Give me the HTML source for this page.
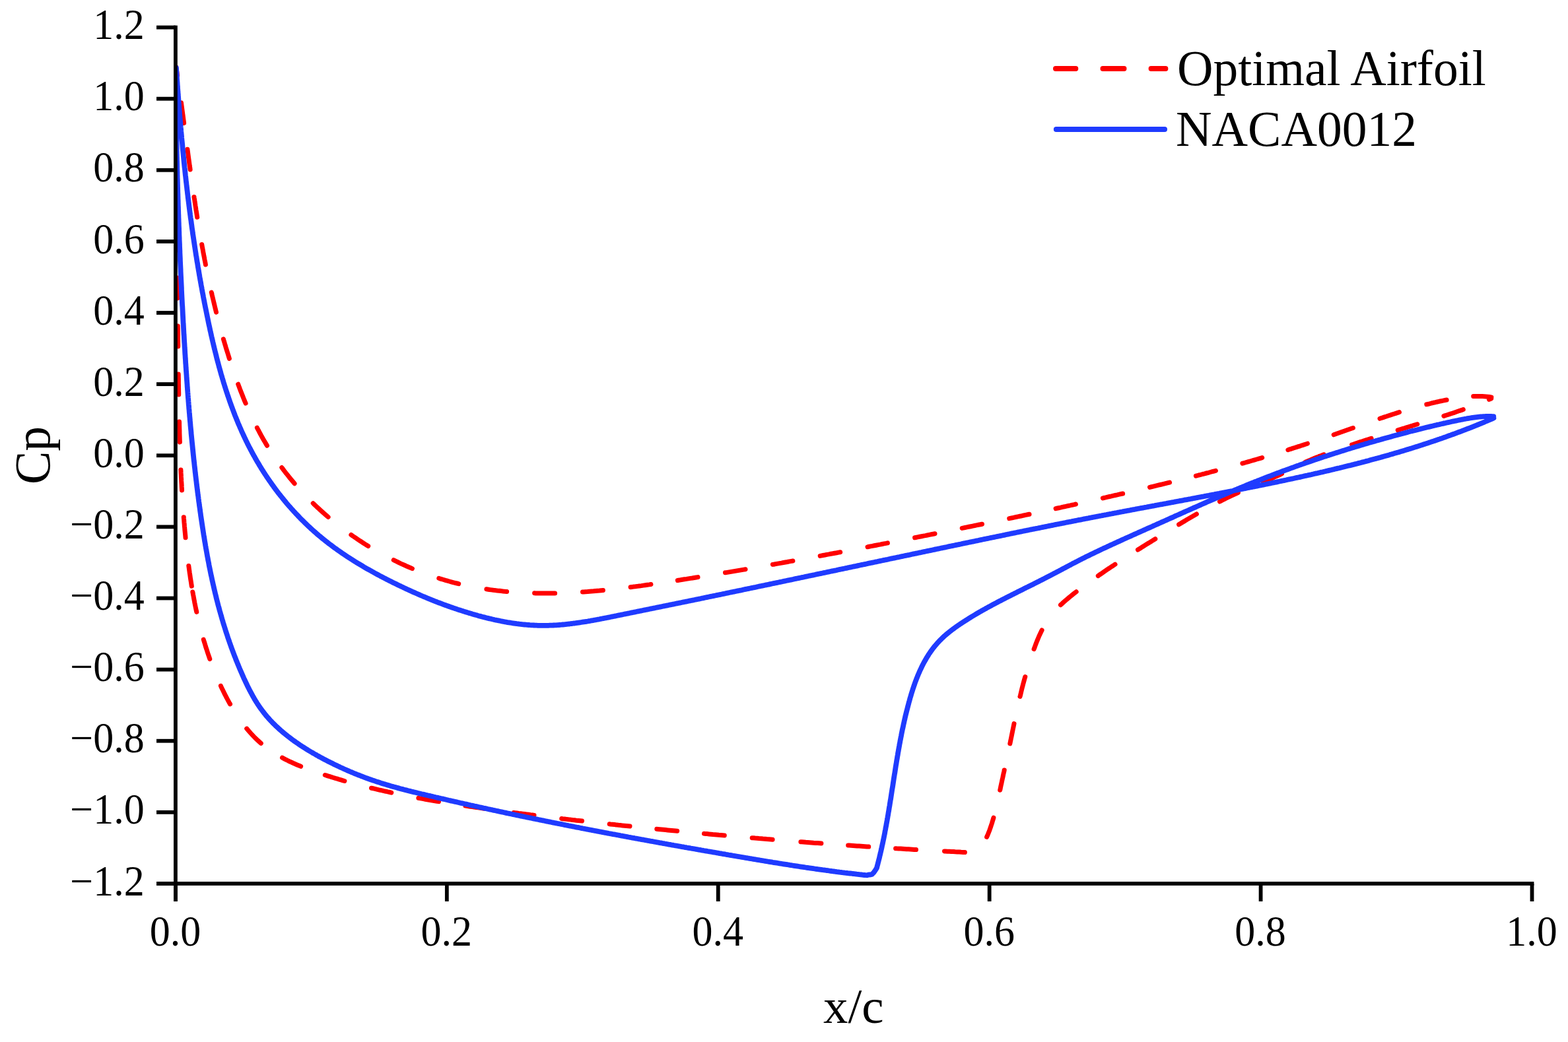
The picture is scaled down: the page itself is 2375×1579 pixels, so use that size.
<!DOCTYPE html>
<html><head><meta charset="utf-8"><title>Cp distribution</title><style>html,body{margin:0;padding:0;background:#fff;overflow:hidden}svg{display:block}</style></head><body>
<svg width="2375" height="1579" viewBox="0 0 2375 1579">
<rect width="2375" height="1579" fill="#fff"/>
<defs><clipPath id="pa"><rect x="265.5" y="0" width="2110" height="1579"/></clipPath></defs>
<g clip-path="url(#pa)">
<path d="M266.8 101.9L267.1 103.8L267.5 106.8L268.0 109.8L268.4 112.7L268.6 114.2M274.5 155.8L274.7 157.3L275.1 160.3L275.5 163.2L275.9 166.2L276.3 169.2L276.7 172.2L277.1 175.1L277.5 178.1L277.9 181.1L278.3 184.1L278.6 186.5M283.9 226.2L284.1 227.7L284.5 230.6L284.9 233.6L285.3 236.6L285.7 239.6L286.1 242.5L286.5 245.5L286.9 248.5L287.3 251.4L287.8 254.4L288.1 256.9M294.0 298.5L294.2 300.0L294.7 302.9L295.1 305.9L295.6 308.9L296.0 311.8L296.5 314.8L296.9 317.8L297.4 320.7L297.9 323.7L298.3 326.6L298.7 329.1M305.7 370.5L306.0 372.0L306.5 375.0L307.1 377.9L307.6 380.9L308.1 383.8L308.7 386.8L309.3 389.7L309.8 392.7L310.4 395.6L311.0 398.5L311.4 401.0M320.3 443.1L320.7 444.5L321.3 447.5L322.0 450.4L322.7 453.3L323.4 456.2L324.1 459.1L324.8 462.1L325.5 465.0L326.2 467.9L326.9 470.8L327.5 473.2M338.4 513.8L338.8 515.2L339.7 518.1L340.5 521.0L341.4 523.9L342.2 526.7L343.1 529.6L344.0 532.5L344.9 535.3L345.8 538.2L346.7 541.1L347.4 543.4M360.7 582.2L361.2 583.6L362.3 586.5L363.3 589.3L364.4 592.1L365.5 594.9L366.6 597.6L367.7 600.4L368.8 603.2L369.9 606.0L371.1 608.8L372.1 611.1M389.4 648.2L390.1 649.6L391.5 652.2L392.9 654.9L394.3 657.5L395.7 660.1L397.2 662.8L398.7 665.4L400.2 668.0L401.7 670.6L403.2 673.1L404.5 675.3M426.8 708.5L427.7 709.7L429.5 712.1L431.3 714.5L433.1 716.8L435.0 719.2L436.9 721.5L438.7 723.9L440.7 726.2L442.6 728.5L444.5 730.8L446.1 732.7M474.2 762.6L475.2 763.6L477.4 765.7L479.6 767.8L481.8 769.8L484.0 771.9L486.2 773.9L488.4 775.9L490.7 777.9L492.9 779.9L495.2 781.8L497.1 783.5M531.8 810.4L533.1 811.3L535.5 813.0L538.0 814.7L540.5 816.4L543.0 818.1L545.5 819.7L548.0 821.3L550.5 823.0L553.0 824.6L555.6 826.2L557.7 827.5M596.2 848.7L597.6 849.4L600.3 850.7L603.0 852.0L605.7 853.3L608.4 854.6L611.1 855.8L613.9 857.0L616.6 858.3L619.4 859.5L622.1 860.6L624.4 861.6M664.8 876.3L666.2 876.8L669.1 877.7L672.0 878.5L674.8 879.4L677.7 880.2L680.6 881.0L683.5 881.8L686.4 882.6L689.3 883.3L692.2 884.0L694.7 884.6M736.9 892.8L738.3 893.0L741.3 893.5L744.3 893.9L747.3 894.3L750.2 894.6L753.2 895.0L756.2 895.3L759.2 895.6L762.2 896.0L765.1 896.3L767.6 896.5M809.6 898.8L811.1 898.9L814.1 898.9L817.1 899.0L820.1 899.0L823.1 899.0L826.1 899.0L829.1 899.0L832.1 899.0L835.1 899.0L838.1 898.9L840.6 898.9M882.5 897.0L884.0 896.9L887.0 896.7L890.0 896.5L893.0 896.2L896.0 896.0L899.0 895.8L902.0 895.5L904.9 895.2L907.9 895.0L910.9 894.7L913.4 894.5M955.1 889.7L956.6 889.5L959.6 889.1L962.6 888.8L965.6 888.4L968.5 888.0L971.5 887.6L974.5 887.1L977.4 886.7L980.4 886.3L983.4 885.9L985.9 885.5M1026.4 879.5L1027.9 879.2L1030.8 878.8L1033.8 878.3L1036.8 877.8L1039.7 877.4L1042.7 876.9L1045.7 876.4L1048.6 876.0L1051.6 875.5L1054.6 875.0L1057.0 874.6M1098.5 867.8L1099.9 867.6L1102.9 867.1L1105.9 866.6L1108.8 866.1L1111.8 865.6L1114.7 865.1L1117.7 864.6L1120.7 864.1L1123.6 863.6L1126.6 863.1L1129.0 862.7M1170.4 855.4L1171.9 855.2L1174.8 854.6L1177.8 854.1L1180.7 853.6L1183.7 853.1L1186.7 852.5L1189.6 852.0L1192.6 851.5L1195.5 850.9L1198.5 850.4L1200.9 850.0M1242.2 842.4L1243.7 842.1L1246.7 841.5L1249.6 841.0L1252.6 840.4L1255.5 839.9L1258.5 839.3L1261.4 838.8L1264.3 838.2L1267.3 837.7L1270.2 837.1L1272.7 836.7M1314.0 828.8L1315.4 828.5L1318.4 827.9L1321.3 827.4L1324.3 826.8L1327.2 826.2L1330.2 825.6L1333.1 825.1L1336.0 824.5L1339.0 823.9L1341.9 823.4L1344.4 822.9M1385.6 814.8L1387.1 814.5L1390.0 813.9L1393.0 813.3L1395.9 812.7L1398.8 812.1L1401.8 811.6L1404.7 811.0L1407.7 810.4L1410.6 809.8L1413.5 809.2L1416.0 808.7M1457.2 800.4L1458.6 800.1L1461.6 799.5L1464.5 798.9L1467.5 798.3L1470.4 797.7L1473.3 797.1L1476.3 796.5L1479.2 795.9L1482.2 795.3L1485.1 794.7L1487.5 794.2M1528.7 785.7L1530.1 785.4L1533.1 784.8L1536.0 784.1L1538.9 783.5L1541.9 782.9L1544.8 782.3L1547.8 781.7L1550.7 781.0L1553.6 780.4L1556.6 779.8L1559.0 779.3M1599.1 770.7L1600.6 770.3L1603.5 769.7L1606.4 769.1L1609.3 768.4L1612.3 767.8L1615.2 767.1L1618.1 766.5L1621.1 765.9L1624.0 765.2L1626.9 764.6L1629.4 764.0M1670.4 754.9L1671.8 754.5L1674.7 753.9L1677.7 753.2L1680.6 752.5L1683.5 751.9L1686.4 751.2L1689.4 750.5L1692.3 749.9L1695.2 749.2L1698.1 748.5L1700.6 748.0M1741.5 738.4L1742.9 738.0L1745.8 737.3L1748.8 736.6L1751.7 735.9L1754.6 735.2L1757.5 734.5L1760.4 733.8L1763.3 733.1L1766.3 732.4L1769.2 731.7L1771.6 731.1M1811.4 721.2L1812.8 720.8L1815.7 720.0L1818.6 719.3L1821.5 718.5L1824.4 717.8L1827.4 717.0L1830.3 716.3L1833.2 715.5L1836.1 714.7L1839.0 714.0L1841.4 713.3M1881.9 702.2L1883.3 701.8L1886.2 701.0L1889.1 700.2L1892.0 699.3L1894.9 698.5L1897.7 697.7L1900.6 696.8L1903.5 696.0L1906.4 695.2L1909.3 694.3L1911.7 693.6M1950.9 681.7L1952.3 681.2L1955.2 680.3L1958.0 679.4L1960.9 678.5L1963.7 677.6L1966.6 676.7L1969.5 675.8L1972.3 674.8L1975.2 673.9L1978.0 673.0L1980.4 672.2M2020.2 658.8L2021.6 658.3L2024.4 657.3L2027.3 656.3L2030.1 655.3L2032.9 654.3L2035.8 653.3L2038.6 652.3L2041.4 651.3L2044.3 650.3L2047.1 649.3L2049.4 648.5M2090.0 634.3L2091.5 633.8L2094.3 632.9L2097.1 631.9L2100.0 631.0L2102.8 630.0L2105.7 629.1L2108.5 628.2L2111.4 627.2L2114.2 626.3L2117.1 625.4L2119.5 624.7M2160.8 612.8L2162.3 612.5L2165.2 611.8L2168.1 611.0L2171.0 610.3L2173.9 609.7L2176.9 609.0L2179.8 608.3L2182.7 607.7L2185.7 607.1L2188.6 606.5L2191.1 606.0M2231.7 600.6L2233.2 600.5L2236.2 600.5L2239.2 600.4L2242.2 600.5L2245.2 600.6L2248.2 600.7L2251.1 601.0L2254.1 601.3L2257.1 601.6L2258.9 601.9M266.4 129.0L266.4 130.5L266.4 133.5L266.4 136.5L266.4 139.5L266.5 142.5L266.5 145.5L266.5 148.5L266.5 151.5L266.5 154.5L266.6 157.5L266.6 160.0M266.9 202.0L266.9 203.5L266.9 206.5L266.9 209.5L266.9 212.5L267.0 215.5L267.0 218.5L267.0 221.5L267.0 224.5L267.1 227.5L267.1 230.5L267.1 233.0M267.4 275.0L267.4 276.5L267.4 279.5L267.4 282.5L267.5 285.5L267.5 288.5L267.5 291.5L267.5 294.5L267.5 297.5L267.6 300.5L267.6 303.5L267.6 306.0M267.9 348.0L267.9 349.5L268.0 352.5L268.0 355.5L268.0 358.5L268.0 361.5L268.1 364.5L268.1 367.5L268.1 370.5L268.1 373.5L268.2 376.5L268.2 379.0M268.6 421.0L268.6 422.5L268.6 425.5L268.6 428.5L268.7 431.5L268.7 434.5L268.7 437.5L268.8 440.5L268.8 443.5L268.8 446.5L268.8 449.5L268.9 452.0M269.3 494.0L269.3 495.5L269.4 498.5L269.4 501.5L269.4 504.5L269.5 507.5L269.5 510.5L269.5 513.5L269.6 516.5L269.6 519.5L269.7 522.5L269.7 525.0M270.2 567.0L270.3 568.5L270.3 571.5L270.4 574.5L270.4 577.5L270.4 580.5L270.5 583.5L270.5 586.5L270.6 589.5L270.6 592.5L270.7 595.5L270.7 598.0M271.5 639.0L271.6 640.5L271.6 643.5L271.7 646.5L271.8 649.5L271.9 652.5L271.9 655.5L272.0 658.5L272.1 661.5L272.2 664.5L272.3 667.5L272.4 670.0M273.9 711.9L274.0 713.4L274.1 716.4L274.3 719.4L274.4 722.4L274.6 725.4L274.7 728.4L274.9 731.4L275.1 734.4L275.2 737.4L275.4 740.4L275.5 742.9M278.3 783.8L278.4 785.3L278.7 788.3L278.9 791.3L279.2 794.3L279.4 797.3L279.7 800.2L279.9 803.2L280.2 806.2L280.5 809.2L280.8 812.2L281.0 814.7M285.8 857.4L286.0 858.9L286.4 861.9L286.8 864.8L287.2 867.8L287.7 870.8L288.1 873.8L288.5 876.7L289.0 879.7L289.5 882.6L289.9 885.6L290.3 888.1M291.8 897.0L292.1 898.4L292.6 901.4L293.2 904.3L293.7 907.3L294.3 910.2L294.8 913.2L295.4 916.1L296.0 919.1L296.6 922.0L297.2 924.9L297.8 927.4M308.3 969.1L308.7 970.5L309.6 973.4L310.5 976.2L311.3 979.1L312.2 982.0L313.2 984.8L314.1 987.7L315.0 990.5L316.0 993.4L317.0 996.2L317.8 998.6M334.4 1039.3L335.0 1040.7L336.3 1043.4L337.6 1046.1L338.9 1048.8L340.2 1051.5L341.6 1054.1L343.0 1056.8L344.4 1059.5L345.8 1062.1L347.2 1064.7L348.5 1066.9M373.7 1104.1L374.7 1105.3L376.6 1107.5L378.6 1109.8L380.6 1112.0L382.6 1114.2L384.7 1116.4L386.8 1118.5L389.0 1120.6L391.2 1122.6L393.4 1124.6L395.3 1126.3M427.5 1148.2L428.8 1148.9L431.5 1150.3L434.1 1151.6L436.8 1153.0L439.5 1154.3L442.3 1155.5L445.0 1156.8L447.7 1158.0L450.5 1159.2L453.2 1160.3L455.6 1161.3M492.3 1174.5L493.7 1174.9L496.5 1175.8L499.4 1176.7L502.3 1177.6L505.1 1178.5L508.0 1179.4L510.9 1180.2L513.8 1181.1L516.6 1181.9L519.5 1182.8L521.9 1183.5M562.5 1194.2L564.0 1194.5L566.9 1195.2L569.8 1195.9L572.7 1196.6L575.7 1197.3L578.6 1197.9L581.5 1198.6L584.4 1199.2L587.4 1199.9L590.3 1200.5L592.8 1201.1M633.9 1209.3L635.4 1209.6L638.4 1210.1L641.3 1210.6L644.3 1211.2L647.2 1211.7L650.2 1212.2L653.1 1212.7L656.1 1213.2L659.0 1213.7L662.0 1214.2L664.5 1214.6M705.0 1221.1L706.4 1221.3L709.4 1221.7L712.4 1222.2L715.4 1222.6L718.3 1223.0L721.3 1223.5L724.3 1223.9L727.2 1224.3L730.2 1224.7L733.2 1225.2L735.6 1225.5M778.2 1231.4L779.7 1231.6L782.7 1232.0L785.7 1232.4L788.7 1232.7L791.6 1233.1L794.6 1233.5L797.6 1233.9L800.6 1234.3L803.5 1234.7L806.5 1235.0L809.0 1235.4M850.7 1240.5L852.2 1240.7L855.1 1241.0L858.1 1241.4L861.1 1241.8L864.1 1242.1L867.1 1242.5L870.0 1242.8L873.0 1243.2L876.0 1243.5L879.0 1243.8L881.5 1244.1M923.2 1248.8L924.7 1249.0L927.7 1249.3L930.7 1249.6L933.6 1249.9L936.6 1250.3L939.6 1250.6L942.6 1250.9L945.6 1251.2L948.5 1251.5L951.5 1251.8L954.0 1252.1M994.8 1256.3L996.3 1256.4L999.3 1256.7L1002.3 1257.0L1005.3 1257.3L1008.2 1257.6L1011.2 1257.9L1014.2 1258.2L1017.2 1258.5L1020.2 1258.8L1023.2 1259.1L1025.7 1259.3M1066.5 1263.2L1068.0 1263.4L1071.0 1263.6L1073.9 1263.9L1076.9 1264.2L1079.9 1264.5L1082.9 1264.7L1085.9 1265.0L1088.9 1265.3L1091.9 1265.5L1094.9 1265.8L1097.3 1266.0M1139.2 1269.7L1140.7 1269.8L1143.7 1270.1L1146.7 1270.3L1149.6 1270.6L1152.6 1270.8L1155.6 1271.1L1158.6 1271.3L1161.6 1271.6L1164.6 1271.8L1167.6 1272.1L1170.1 1272.3M1212.9 1275.7L1214.4 1275.8L1217.4 1276.0L1220.4 1276.3L1223.4 1276.5L1226.4 1276.7L1229.4 1276.9L1232.4 1277.2L1235.4 1277.4L1238.4 1277.6L1241.4 1277.8L1243.9 1278.0M1284.7 1281.0L1286.2 1281.1L1289.2 1281.3L1292.2 1281.5L1295.2 1281.7L1298.2 1281.9L1301.2 1282.1L1304.2 1282.3L1307.2 1282.5L1310.2 1282.7L1313.2 1282.9L1315.7 1283.1M1356.6 1285.7L1358.1 1285.8L1361.1 1285.9L1364.1 1286.1L1367.1 1286.3L1370.1 1286.5L1373.1 1286.7L1376.1 1286.8L1379.1 1287.0L1382.0 1287.2L1385.0 1287.4L1387.5 1287.5M1430.5 1289.9L1432.0 1290.0L1435.0 1290.2L1438.0 1290.3L1441.0 1290.5L1443.9 1290.6L1446.9 1290.8L1449.9 1290.9L1452.9 1291.1L1455.9 1291.3L1458.9 1291.4L1461.4 1291.5M1494.6 1268.4L1495.2 1267.0L1496.4 1264.3L1497.5 1261.5L1498.6 1258.7L1499.6 1255.9L1500.6 1253.0L1501.5 1250.2L1502.5 1247.3L1503.3 1244.5L1504.2 1241.6L1504.9 1239.2M1514.7 1197.3L1515.0 1195.9L1515.6 1192.9L1516.2 1190.0L1516.9 1187.1L1517.5 1184.1L1518.1 1181.2L1518.8 1178.3L1519.4 1175.3L1520.0 1172.4L1520.7 1169.5L1521.2 1167.0M1529.8 1126.9L1530.1 1125.5L1530.7 1122.5L1531.3 1119.6L1531.9 1116.7L1532.5 1113.7L1533.1 1110.8L1533.7 1107.8L1534.3 1104.9L1534.9 1102.0L1535.5 1099.0L1536.0 1096.6M1545.0 1055.5L1545.4 1054.1L1546.1 1051.2L1546.8 1048.3L1547.5 1045.3L1548.2 1042.4L1549.0 1039.5L1549.7 1036.6L1550.5 1033.7L1551.3 1030.8L1552.1 1027.9L1552.8 1025.5M1566.1 983.6L1566.7 982.2L1567.7 979.4L1568.7 976.6L1569.8 973.8L1570.9 971.0L1572.1 968.2L1573.2 965.5L1574.4 962.7L1575.7 960.0L1577.0 957.3L1578.1 955.0M1606.5 916.7L1607.6 915.7L1609.8 913.6L1612.0 911.6L1614.3 909.6L1616.6 907.7L1618.9 905.8L1621.2 903.9L1623.5 902.0L1625.9 900.1L1628.2 898.3L1630.2 896.8M1663.3 872.6L1664.5 871.7L1667.0 870.0L1669.5 868.3L1671.9 866.6L1674.4 864.9L1676.9 863.2L1679.4 861.5L1681.9 859.9L1684.4 858.2L1686.9 856.6L1689.0 855.2M1723.5 833.1L1724.8 832.3L1727.3 830.7L1729.9 829.1L1732.4 827.5L1734.9 825.9L1737.5 824.3L1740.0 822.7L1742.6 821.2L1745.1 819.6L1747.7 818.0L1749.8 816.7M1785.6 794.8L1786.9 794.0L1789.5 792.4L1792.1 790.9L1794.7 789.4L1797.2 787.8L1799.8 786.3L1802.4 784.8L1805.0 783.3L1807.6 781.8L1810.2 780.3L1812.4 779.0M1847.5 760.0L1848.8 759.3L1851.5 757.9L1854.2 756.6L1856.9 755.2L1859.6 753.9L1862.3 752.6L1865.0 751.3L1867.7 750.1L1870.4 748.8L1873.2 747.5L1875.4 746.5M1913.2 730.5L1914.5 729.9L1917.3 728.7L1920.1 727.5L1922.8 726.4L1925.6 725.2L1928.3 724.0L1931.1 722.7L1933.8 721.5L1936.5 720.3L1939.2 719.0L1941.5 717.9M1976.5 700.6L1977.8 700.0L1980.6 698.8L1983.3 697.6L1986.1 696.4L1988.8 695.2L1991.6 694.1L1994.4 693.0L1997.2 691.9L2000.0 690.9L2002.8 689.8L2005.2 688.9M2047.6 673.9L2049.0 673.5L2051.9 672.5L2054.7 671.6L2057.6 670.6L2060.4 669.7L2063.3 668.8L2066.1 667.8L2069.0 666.9L2071.8 666.0L2074.7 665.1L2077.1 664.3M2117.2 651.8L2118.6 651.4L2121.5 650.5L2124.3 649.6L2127.2 648.8L2130.1 647.9L2132.9 647.0L2135.8 646.2L2138.7 645.3L2141.6 644.4L2144.4 643.5L2146.8 642.8M2186.9 630.4L2188.4 629.9L2191.2 629.0L2194.1 628.1L2196.9 627.2L2199.8 626.2L2202.6 625.3L2205.5 624.3L2208.3 623.3L2211.1 622.3L2214.0 621.4L2216.3 620.5M2255.5 605.3L2256.8 604.7L2258.7 603.9" fill="none" stroke="#FF0000" stroke-width="7" stroke-linecap="round" stroke-linejoin="round"/>
<path d="M266.4 102.8L266.4 104.8L266.4 106.8L266.4 108.8L266.4 110.8L266.4 112.8L266.5 114.8L266.5 116.8L266.5 118.8L266.5 120.8L266.5 122.8L266.5 124.8L266.5 126.8L266.5 128.8L266.5 130.8L266.5 132.8L266.5 134.8L266.6 136.8L266.6 138.8L266.6 140.8L266.6 142.8L266.6 144.8L266.6 146.8L266.6 148.8L266.7 150.8L266.7 152.8L266.7 154.8L266.7 156.8L266.7 158.8L266.7 160.8L266.8 162.8L266.8 164.8L266.8 166.8L266.8 168.8L266.9 170.8L266.9 172.8L266.9 174.8L266.9 176.8L266.9 178.8L267.0 180.8L267.0 182.8L267.0 184.8L267.1 186.8L267.1 188.8L267.1 190.8L267.1 192.8L267.2 194.8L267.2 196.8L267.2 198.8L267.3 200.8L267.3 202.8L267.3 204.8L267.4 206.8L267.4 208.8L267.4 210.8L267.5 212.8L267.5 214.8L267.5 216.8L267.6 218.8L267.6 220.8L267.6 222.8L267.7 224.8L267.7 226.8L267.7 228.8L267.8 230.8L267.8 232.8L267.9 234.8L267.9 236.8L268.0 238.8L268.0 240.8L268.0 242.8L268.1 244.8L268.1 246.8L268.2 248.8L268.2 250.8L268.3 252.8L268.3 254.8L268.4 256.8L268.4 258.8L268.5 260.8L268.5 262.8L268.5 264.8L268.6 266.8L268.6 268.8L268.7 270.8L268.8 272.8L268.8 274.8L268.9 276.8L268.9 278.7L269.0 280.7L269.0 282.7L269.1 284.7L269.1 286.7L269.2 288.7L269.2 290.7L269.3 292.7L269.4 294.7L269.4 296.7L269.5 298.7L269.5 300.7L269.6 302.7L269.7 304.7L269.7 306.7L269.8 308.7L269.8 310.7L269.9 312.7L270.0 314.7L270.0 316.7L270.1 318.7L270.2 320.7L270.2 322.7L270.3 324.7L270.4 326.7L270.4 328.7L270.5 330.7L270.6 332.7L270.6 334.7L270.7 336.7L270.8 338.7L270.8 340.7L270.9 342.7L271.0 344.7L271.1 346.7L271.1 348.7L271.2 350.7L271.3 352.7L271.3 354.7L271.4 356.7L271.5 358.7L271.6 360.7L271.6 362.7L271.7 364.7L271.8 366.7L271.9 368.7L272.0 370.7L272.0 372.7L272.1 374.7L272.2 376.7L272.3 378.7L272.4 380.7L272.4 382.7L272.5 384.7L272.6 386.7L272.7 388.7L272.8 390.7L272.9 392.7L272.9 394.7L273.0 396.7L273.1 398.7L273.2 400.7L273.3 402.7L273.4 404.7L273.5 406.7L273.6 408.7L273.6 410.7L273.7 412.7L273.8 414.7L273.9 416.7L274.0 418.7L274.1 420.7L274.2 422.7L274.3 424.6L274.4 426.6L274.5 428.6L274.6 430.6L274.7 432.6L274.8 434.6L274.9 436.6L274.9 438.6L275.0 440.6L275.1 442.6L275.2 444.6L275.3 446.6L275.4 448.6L275.5 450.6L275.6 452.6L275.7 454.6L275.8 456.6L275.9 458.6L276.0 460.6L276.1 462.6L276.3 464.6L276.4 466.6L276.5 468.6L276.6 470.6L276.7 472.6L276.8 474.6L276.9 476.6L277.0 478.6L277.1 480.6L277.2 482.6L277.3 484.6L277.4 486.6L277.5 488.6L277.6 490.6L277.8 492.6L277.9 494.6L278.0 496.6L278.1 498.6L278.2 500.5L278.3 502.5L278.4 504.5L278.5 506.5L278.7 508.5L278.8 510.5L278.9 512.5L279.0 514.5L279.1 516.5L279.2 518.5L279.4 520.5L279.5 522.5L279.6 524.5L279.7 526.5L279.9 528.5L280.0 530.5L280.1 532.5L280.2 534.5L280.3 536.5L280.5 538.5L280.6 540.5L280.7 542.5L280.9 544.5L281.0 546.5L281.1 548.5L281.2 550.5L281.4 552.4L281.5 554.4L281.6 556.4L281.8 558.4L281.9 560.4L282.0 562.4L282.2 564.4L282.3 566.4L282.5 568.4L282.6 570.4L282.7 572.4L282.9 574.4L283.0 576.4L283.2 578.4L283.3 580.4L283.5 582.4L283.6 584.4L283.7 586.4L283.9 588.4L284.0 590.4L284.2 592.4L284.3 594.3L284.5 596.3L284.6 598.3L284.8 600.3L284.9 602.3L285.1 604.3L285.3 606.3L285.4 608.3L285.6 610.3L285.7 612.3L285.9 614.3L286.1 616.3L286.2 618.3L286.4 620.3L286.6 622.3L286.7 624.3L286.9 626.2L287.1 628.2L287.2 630.2L287.4 632.2L287.6 634.2L287.7 636.2L287.9 638.2L288.1 640.2L288.3 642.2L288.4 644.2L288.6 646.2L288.8 648.2L289.0 650.2L289.2 652.1L289.4 654.1L289.5 656.1L289.7 658.1L289.9 660.1L290.1 662.1L290.3 664.1L290.5 666.1L290.7 668.1L290.9 670.1L291.1 672.1L291.3 674.0L291.5 676.0L291.7 678.0L291.9 680.0L292.1 682.0L292.3 684.0L292.5 686.0L292.7 688.0L292.9 690.0L293.1 691.9L293.3 693.9L293.5 695.9L293.7 697.9L294.0 699.9L294.2 701.9L294.4 703.9L294.6 705.9L294.8 707.9L295.1 709.8L295.3 711.8L295.5 713.8L295.7 715.8L296.0 717.8L296.2 719.8L296.4 721.8L296.7 723.8L296.9 725.7L297.1 727.7L297.4 729.7L297.6 731.7L297.8 733.7L298.1 735.7L298.3 737.6L298.6 739.6L298.8 741.6L299.1 743.6L299.3 745.6L299.6 747.6L299.8 749.6L300.1 751.5L300.4 753.5L300.6 755.5L300.9 757.5L301.1 759.5L301.4 761.5L301.7 763.4L301.9 765.4L302.2 767.4L302.5 769.4L302.8 771.4L303.0 773.3L303.3 775.3L303.6 777.3L303.9 779.3L304.1 781.3L304.4 783.2L304.7 785.2L305.0 787.2L305.3 789.2L305.6 791.2L305.9 793.1L306.2 795.1L306.5 797.1L306.8 799.1L307.1 801.0L307.4 803.0L307.7 805.0L308.0 807.0L308.3 809.0L308.6 810.9L309.0 812.9L309.3 814.9L309.6 816.8L309.9 818.8L310.2 820.8L310.6 822.8L310.9 824.7L311.2 826.7L311.6 828.7L311.9 830.7L312.3 832.6L312.6 834.6L313.0 836.6L313.3 838.5L313.7 840.5L314.0 842.5L314.4 844.4L314.8 846.4L315.1 848.4L315.5 850.3L315.9 852.3L316.3 854.3L316.6 856.2L317.0 858.2L317.4 860.1L317.8 862.1L318.2 864.1L318.6 866.0L319.0 868.0L319.4 869.9L319.8 871.9L320.3 873.9L320.7 875.8L321.1 877.8L321.5 879.7L322.0 881.7L322.4 883.6L322.8 885.6L323.3 887.5L323.7 889.5L324.2 891.4L324.6 893.4L325.1 895.3L325.5 897.3L326.0 899.2L326.5 901.2L327.0 903.1L327.4 905.0L327.9 907.0L328.4 908.9L328.9 910.9L329.4 912.8L329.9 914.7L330.4 916.7L330.9 918.6L331.5 920.5L332.0 922.5L332.5 924.4L333.0 926.3L333.6 928.2L334.1 930.2L334.7 932.1L335.2 934.0L335.8 935.9L336.3 937.8L336.9 939.8L337.5 941.7L338.0 943.6L338.6 945.5L339.2 947.4L339.8 949.3L340.4 951.2L341.0 953.2L341.6 955.1L342.2 957.0L342.8 958.9L343.5 960.8L344.1 962.7L344.7 964.6L345.3 966.5L346.0 968.4L346.6 970.2L347.3 972.1L347.9 974.0L348.6 975.9L349.3 977.8L349.9 979.7L350.6 981.6L351.3 983.4L352.0 985.3L352.7 987.2L353.4 989.1L354.1 990.9L354.8 992.8L355.5 994.7L356.3 996.5L357.0 998.4L357.7 1000.3L358.5 1002.1L359.2 1004.0L360.0 1005.8L360.7 1007.7L361.5 1009.5L362.3 1011.4L363.0 1013.2L363.8 1015.1L364.6 1016.9L365.4 1018.7L366.2 1020.6L367.0 1022.4L367.8 1024.2L368.6 1026.1L369.4 1027.9L370.3 1029.7L371.1 1031.5L372.0 1033.3L372.8 1035.1L373.7 1036.9L374.5 1038.7L375.4 1040.5L376.3 1042.3L377.2 1044.1L378.1 1045.9L379.1 1047.7L380.0 1049.4L381.0 1051.2L381.9 1052.9L382.9 1054.7L383.9 1056.4L384.9 1058.2L385.9 1059.9L386.9 1061.6L388.0 1063.3L389.0 1065.0L390.1 1066.7L391.2 1068.3L392.3 1070.0L393.5 1071.7L394.6 1073.3L395.8 1074.9L397.0 1076.5L398.2 1078.1L399.4 1079.7L400.6 1081.3L401.9 1082.8L403.1 1084.4L404.4 1085.9L405.8 1087.4L407.1 1088.9L408.4 1090.4L409.8 1091.9L411.2 1093.3L412.5 1094.8L413.9 1096.2L415.4 1097.6L416.8 1099.0L418.2 1100.4L419.7 1101.7L421.2 1103.1L422.6 1104.5L424.1 1105.8L425.6 1107.1L427.1 1108.4L428.7 1109.7L430.2 1111.0L431.8 1112.3L433.3 1113.5L434.9 1114.8L436.4 1116.0L438.0 1117.2L439.6 1118.4L441.2 1119.6L442.8 1120.8L444.4 1122.0L446.1 1123.2L447.7 1124.3L449.3 1125.5L451.0 1126.6L452.6 1127.7L454.3 1128.9L456.0 1130.0L457.6 1131.1L459.3 1132.2L461.0 1133.2L462.7 1134.3L464.4 1135.4L466.1 1136.4L467.8 1137.5L469.5 1138.5L471.2 1139.5L472.9 1140.5L474.7 1141.5L476.4 1142.5L478.1 1143.5L479.9 1144.5L481.6 1145.5L483.4 1146.5L485.1 1147.4L486.9 1148.4L488.6 1149.3L490.4 1150.3L492.2 1151.2L494.0 1152.1L495.7 1153.0L497.5 1153.9L499.3 1154.8L501.1 1155.7L502.9 1156.6L504.7 1157.5L506.5 1158.4L508.3 1159.3L510.1 1160.1L511.9 1161.0L513.7 1161.8L515.5 1162.7L517.3 1163.5L519.1 1164.3L521.0 1165.2L522.8 1166.0L524.6 1166.8L526.4 1167.6L528.3 1168.4L530.1 1169.2L532.0 1170.0L533.8 1170.7L535.6 1171.5L537.5 1172.3L539.4 1173.0L541.2 1173.8L543.1 1174.5L544.9 1175.2L546.8 1176.0L548.7 1176.7L550.5 1177.4L552.4 1178.1L554.3 1178.8L556.2 1179.5L558.0 1180.2L559.9 1180.8L561.8 1181.5L563.7 1182.2L565.6 1182.8L567.5 1183.4L569.4 1184.1L571.3 1184.7L573.2 1185.3L575.1 1185.9L577.0 1186.6L578.9 1187.2L580.8 1187.8L582.7 1188.3L584.6 1188.9L586.5 1189.5L588.5 1190.1L590.4 1190.6L592.3 1191.2L594.2 1191.7L596.1 1192.3L598.1 1192.8L600.0 1193.3L601.9 1193.9L603.9 1194.4L605.8 1194.9L607.7 1195.4L609.7 1195.9L611.6 1196.4L613.5 1196.9L615.5 1197.4L617.4 1197.9L619.3 1198.4L621.3 1198.9L623.2 1199.4L625.2 1199.9L627.1 1200.4L629.0 1200.8L631.0 1201.3L632.9 1201.8L634.9 1202.2L636.8 1202.7L638.8 1203.2L640.7 1203.6L642.7 1204.1L644.6 1204.6L646.6 1205.0L648.5 1205.5L650.4 1205.9L652.4 1206.4L654.3 1206.8L656.3 1207.3L658.2 1207.7L660.2 1208.2L662.1 1208.6L664.1 1209.1L666.0 1209.5L668.0 1210.0L669.9 1210.4L671.9 1210.9L673.8 1211.3L675.8 1211.8L677.7 1212.2L679.7 1212.7L681.6 1213.1L683.6 1213.6L685.5 1214.0L687.5 1214.4L689.4 1214.9L691.4 1215.3L693.3 1215.8L695.3 1216.2L697.2 1216.7L699.2 1217.1L701.1 1217.5L703.1 1218.0L705.0 1218.4L707.0 1218.8L708.9 1219.3L710.9 1219.7L712.8 1220.2L714.8 1220.6L716.8 1221.0L718.7 1221.5L720.7 1221.9L722.6 1222.3L724.6 1222.8L726.5 1223.2L728.5 1223.6L730.4 1224.0L732.4 1224.5L734.3 1224.9L736.3 1225.3L738.2 1225.8L740.2 1226.2L742.1 1226.6L744.1 1227.0L746.1 1227.4L748.0 1227.9L750.0 1228.3L751.9 1228.7L753.9 1229.1L755.8 1229.6L757.8 1230.0L759.7 1230.4L761.7 1230.8L763.7 1231.2L765.6 1231.6L767.6 1232.1L769.5 1232.5L771.5 1232.9L773.4 1233.3L775.4 1233.7L777.3 1234.1L779.3 1234.5L781.3 1235.0L783.2 1235.4L785.2 1235.8L787.1 1236.2L789.1 1236.6L791.1 1237.0L793.0 1237.4L795.0 1237.8L796.9 1238.2L798.9 1238.6L800.8 1239.0L802.8 1239.4L804.8 1239.8L806.7 1240.2L808.7 1240.6L810.6 1241.0L812.6 1241.4L814.6 1241.8L816.5 1242.2L818.5 1242.6L820.4 1243.0L822.4 1243.4L824.4 1243.8L826.3 1244.2L828.3 1244.6L830.2 1245.0L832.2 1245.4L834.2 1245.8L836.1 1246.2L838.1 1246.6L840.0 1247.0L842.0 1247.4L844.0 1247.8L845.9 1248.2L847.9 1248.5L849.9 1248.9L851.8 1249.3L853.8 1249.7L855.7 1250.1L857.7 1250.5L859.7 1250.9L861.6 1251.3L863.6 1251.6L865.6 1252.0L867.5 1252.4L869.5 1252.8L871.4 1253.2L873.4 1253.6L875.4 1253.9L877.3 1254.3L879.3 1254.7L881.3 1255.1L883.2 1255.5L885.2 1255.8L887.1 1256.2L889.1 1256.6L891.1 1257.0L893.0 1257.4L895.0 1257.7L897.0 1258.1L898.9 1258.5L900.9 1258.9L902.9 1259.2L904.8 1259.6L906.8 1260.0L908.8 1260.4L910.7 1260.7L912.7 1261.1L914.6 1261.5L916.6 1261.9L918.6 1262.2L920.5 1262.6L922.5 1263.0L924.5 1263.3L926.4 1263.7L928.4 1264.1L930.4 1264.4L932.3 1264.8L934.3 1265.2L936.3 1265.5L938.2 1265.9L940.2 1266.3L942.2 1266.6L944.1 1267.0L946.1 1267.4L948.1 1267.7L950.0 1268.1L952.0 1268.5L954.0 1268.8L955.9 1269.2L957.9 1269.6L959.9 1269.9L961.8 1270.3L963.8 1270.6L965.8 1271.0L967.7 1271.4L969.7 1271.7L971.7 1272.1L973.6 1272.4L975.6 1272.8L977.6 1273.2L979.5 1273.5L981.5 1273.9L983.5 1274.2L985.4 1274.6L987.4 1274.9L989.4 1275.3L991.3 1275.7L993.3 1276.0L995.3 1276.4L997.3 1276.7L999.2 1277.1L1001.2 1277.4L1003.2 1277.8L1005.1 1278.1L1007.1 1278.5L1009.1 1278.8L1011.0 1279.2L1013.0 1279.6L1015.0 1279.9L1016.9 1280.3L1018.9 1280.6L1020.9 1281.0L1022.8 1281.3L1024.8 1281.7L1026.8 1282.0L1028.8 1282.4L1030.7 1282.7L1032.7 1283.1L1034.7 1283.4L1036.6 1283.8L1038.6 1284.1L1040.6 1284.5L1042.5 1284.8L1044.5 1285.1L1046.5 1285.5L1048.4 1285.8L1050.4 1286.2L1052.4 1286.5L1054.4 1286.9L1056.3 1287.2L1058.3 1287.6L1060.3 1287.9L1062.2 1288.3L1064.2 1288.6L1066.2 1289.0L1068.1 1289.3L1070.1 1289.6L1072.1 1290.0L1074.1 1290.3L1076.0 1290.7L1078.0 1291.0L1080.0 1291.4L1081.9 1291.7L1083.9 1292.0L1085.9 1292.4L1087.9 1292.7L1089.8 1293.1L1091.8 1293.4L1093.8 1293.8L1095.7 1294.1L1097.7 1294.4L1099.7 1294.8L1101.6 1295.1L1103.6 1295.5L1105.6 1295.8L1107.6 1296.1L1109.5 1296.5L1111.5 1296.8L1113.5 1297.2L1115.4 1297.5L1117.4 1297.8L1119.4 1298.2L1121.4 1298.5L1123.3 1298.8L1125.3 1299.2L1127.3 1299.5L1129.2 1299.9L1131.2 1300.2L1133.2 1300.5L1135.2 1300.9L1137.1 1301.2L1139.1 1301.5L1141.1 1301.9L1143.0 1302.2L1145.0 1302.5L1147.0 1302.9L1149.0 1303.2L1150.9 1303.5L1152.9 1303.8L1154.9 1304.2L1156.9 1304.5L1158.8 1304.8L1160.8 1305.2L1162.8 1305.5L1164.7 1305.8L1166.7 1306.1L1168.7 1306.4L1170.7 1306.8L1172.6 1307.1L1174.6 1307.4L1176.6 1307.7L1178.6 1308.0L1180.5 1308.4L1182.5 1308.7L1184.5 1309.0L1186.5 1309.3L1188.4 1309.6L1190.4 1309.9L1192.4 1310.2L1194.4 1310.5L1196.3 1310.9L1198.3 1311.2L1200.3 1311.5L1202.3 1311.8L1204.3 1312.1L1206.2 1312.4L1208.2 1312.7L1210.2 1313.0L1212.2 1313.3L1214.1 1313.6L1216.1 1313.9L1218.1 1314.2L1220.1 1314.5L1222.1 1314.8L1224.0 1315.0L1226.0 1315.3L1228.0 1315.6L1230.0 1315.9L1231.9 1316.2L1233.9 1316.5L1235.9 1316.8L1237.9 1317.0L1239.9 1317.3L1241.8 1317.6L1243.8 1317.9L1245.8 1318.2L1247.8 1318.4L1249.8 1318.7L1251.8 1319.0L1253.7 1319.2L1255.7 1319.5L1257.7 1319.8L1259.7 1320.0L1261.7 1320.3L1263.6 1320.5L1265.6 1320.8L1267.6 1321.1L1269.6 1321.3L1271.6 1321.6L1273.6 1321.8L1275.6 1322.1L1277.5 1322.3L1279.5 1322.6L1281.5 1322.8L1283.5 1323.0L1285.5 1323.3L1287.5 1323.5L1289.5 1323.7L1291.4 1324.0L1293.4 1324.2L1295.4 1324.4L1297.4 1324.7L1299.4 1324.9L1301.4 1325.1L1303.4 1325.3L1305.4 1325.5L1307.3 1325.8L1309.3 1326.0L1311.3 1326.2L1313.3 1326.3L1315.1 1325.7L1317.1 1325.5L1319.1 1325.4L1321.0 1324.8L1322.3 1323.3L1323.7 1321.9L1324.8 1320.2L1325.9 1318.6L1327.0 1316.9L1328.0 1315.2L1328.5 1313.2L1329.0 1311.3L1329.5 1309.4L1330.0 1307.4L1330.5 1305.5L1331.0 1303.6L1331.5 1301.6L1332.0 1299.7L1332.4 1297.7L1332.9 1295.8L1333.4 1293.8L1333.8 1291.9L1334.3 1289.9L1334.7 1288.0L1335.2 1286.0L1335.6 1284.1L1336.0 1282.1L1336.4 1280.2L1336.9 1278.2L1337.3 1276.3L1337.7 1274.3L1338.1 1272.4L1338.5 1270.4L1338.9 1268.4L1339.3 1266.5L1339.7 1264.5L1340.1 1262.6L1340.4 1260.6L1340.8 1258.6L1341.2 1256.7L1341.5 1254.7L1341.9 1252.7L1342.3 1250.8L1342.6 1248.8L1343.0 1246.8L1343.3 1244.9L1343.7 1242.9L1344.0 1240.9L1344.4 1238.9L1344.7 1237.0L1345.1 1235.0L1345.4 1233.0L1345.7 1231.1L1346.1 1229.1L1346.4 1227.1L1346.7 1225.1L1347.0 1223.2L1347.4 1221.2L1347.7 1219.2L1348.0 1217.2L1348.3 1215.3L1348.6 1213.3L1349.0 1211.3L1349.3 1209.3L1349.6 1207.4L1349.9 1205.4L1350.2 1203.4L1350.5 1201.4L1350.8 1199.5L1351.1 1197.5L1351.4 1195.5L1351.8 1193.5L1352.1 1191.6L1352.4 1189.6L1352.7 1187.6L1353.0 1185.6L1353.3 1183.7L1353.6 1181.7L1353.9 1179.7L1354.2 1177.7L1354.5 1175.8L1354.8 1173.8L1355.2 1171.8L1355.5 1169.8L1355.8 1167.9L1356.1 1165.9L1356.4 1163.9L1356.7 1161.9L1357.0 1160.0L1357.4 1158.0L1357.7 1156.0L1358.0 1154.0L1358.3 1152.1L1358.7 1150.1L1359.0 1148.1L1359.3 1146.1L1359.7 1144.2L1360.0 1142.2L1360.3 1140.2L1360.7 1138.3L1361.0 1136.3L1361.4 1134.3L1361.7 1132.4L1362.1 1130.4L1362.4 1128.4L1362.8 1126.5L1363.2 1124.5L1363.5 1122.5L1363.9 1120.6L1364.3 1118.6L1364.7 1116.6L1365.1 1114.7L1365.4 1112.7L1365.8 1110.7L1366.2 1108.8L1366.6 1106.8L1367.0 1104.9L1367.5 1102.9L1367.9 1100.9L1368.3 1099.0L1368.7 1097.0L1369.2 1095.1L1369.6 1093.1L1370.0 1091.2L1370.5 1089.2L1370.9 1087.3L1371.4 1085.3L1371.8 1083.4L1372.3 1081.5L1372.8 1079.5L1373.3 1077.6L1373.8 1075.6L1374.3 1073.7L1374.8 1071.8L1375.3 1069.8L1375.8 1067.9L1376.3 1066.0L1376.8 1064.0L1377.4 1062.1L1377.9 1060.2L1378.4 1058.2L1379.0 1056.3L1379.6 1054.4L1380.1 1052.5L1380.7 1050.6L1381.3 1048.7L1381.9 1046.8L1382.5 1044.9L1383.1 1043.0L1383.8 1041.1L1384.4 1039.2L1385.1 1037.3L1385.7 1035.4L1386.4 1033.5L1387.1 1031.6L1387.8 1029.8L1388.5 1027.9L1389.3 1026.0L1390.0 1024.2L1390.8 1022.3L1391.6 1020.5L1392.4 1018.7L1393.2 1016.8L1394.0 1015.0L1394.9 1013.2L1395.7 1011.4L1396.6 1009.6L1397.5 1007.8L1398.4 1006.0L1399.3 1004.3L1400.3 1002.5L1401.3 1000.8L1402.3 999.0L1403.3 997.3L1404.3 995.6L1405.4 993.9L1406.4 992.2L1407.5 990.5L1408.7 988.9L1409.8 987.2L1411.0 985.6L1412.1 984.0L1413.3 982.4L1414.6 980.8L1415.8 979.2L1417.1 977.7L1418.4 976.2L1419.7 974.7L1421.1 973.2L1422.4 971.7L1423.8 970.3L1425.2 968.9L1426.6 967.5L1428.1 966.1L1429.6 964.7L1431.0 963.4L1432.5 962.1L1434.1 960.8L1435.6 959.5L1437.2 958.2L1438.7 957.0L1440.3 955.8L1441.9 954.5L1443.5 953.3L1445.1 952.2L1446.7 951.0L1448.3 949.8L1450.0 948.7L1451.6 947.5L1453.3 946.4L1454.9 945.3L1456.6 944.2L1458.3 943.1L1459.9 942.0L1461.6 940.9L1463.3 939.8L1465.0 938.8L1466.7 937.7L1468.4 936.6L1470.1 935.6L1471.8 934.5L1473.5 933.5L1475.2 932.5L1476.9 931.5L1478.7 930.4L1480.4 929.4L1482.1 928.4L1483.8 927.4L1485.6 926.4L1487.3 925.4L1489.1 924.4L1490.8 923.5L1492.5 922.5L1494.3 921.5L1496.0 920.5L1497.8 919.6L1499.6 918.6L1501.3 917.7L1503.1 916.7L1504.8 915.8L1506.6 914.8L1508.4 913.9L1510.1 913.0L1511.9 912.0L1513.7 911.1L1515.5 910.2L1517.2 909.3L1519.0 908.3L1520.8 907.4L1522.6 906.5L1524.3 905.6L1526.1 904.7L1527.9 903.8L1529.7 902.9L1531.5 902.0L1533.3 901.1L1535.1 900.2L1536.8 899.3L1538.6 898.4L1540.4 897.5L1542.2 896.6L1544.0 895.7L1545.8 894.8L1547.6 893.9L1549.4 893.0L1551.1 892.1L1552.9 891.2L1554.7 890.3L1556.5 889.5L1558.3 888.6L1560.1 887.7L1561.9 886.8L1563.7 885.9L1565.5 885.0L1567.2 884.1L1569.0 883.2L1570.8 882.3L1572.6 881.4L1574.4 880.5L1576.2 879.6L1578.0 878.7L1579.7 877.8L1581.5 876.9L1583.3 875.9L1585.1 875.0L1586.9 874.1L1588.6 873.2L1590.4 872.3L1592.2 871.3L1594.0 870.4L1595.7 869.5L1597.5 868.6L1599.3 867.6L1601.0 866.7L1602.8 865.8L1604.6 864.8L1606.4 863.9L1608.1 863.0L1609.9 862.0L1611.7 861.1L1613.4 860.2L1615.2 859.2L1617.0 858.3L1618.7 857.4L1620.5 856.4L1622.3 855.5L1624.0 854.5L1625.8 853.6L1627.6 852.7L1629.3 851.8L1631.1 850.9L1632.9 849.9L1634.7 849.0L1636.5 848.1L1638.2 847.2L1640.0 846.3L1641.8 845.4L1643.6 844.5L1645.4 843.6L1647.2 842.7L1649.0 841.9L1650.8 841.0L1652.6 840.1L1654.4 839.2L1656.2 838.4L1658.0 837.5L1659.8 836.6L1661.6 835.8L1663.4 834.9L1665.2 834.1L1667.0 833.2L1668.8 832.3L1670.6 831.5L1672.4 830.6L1674.3 829.8L1676.1 829.0L1677.9 828.1L1679.7 827.3L1681.5 826.4L1683.3 825.6L1685.1 824.8L1687.0 823.9L1688.8 823.1L1690.6 822.3L1692.4 821.4L1694.2 820.6L1696.1 819.8L1697.9 818.9L1699.7 818.1L1701.5 817.3L1703.3 816.5L1705.2 815.6L1707.0 814.8L1708.8 814.0L1710.6 813.2L1712.5 812.4L1714.3 811.5L1716.1 810.7L1717.9 809.9L1719.8 809.1L1721.6 808.3L1723.4 807.5L1725.2 806.6L1727.1 805.8L1728.9 805.0L1730.7 804.2L1732.5 803.4L1734.4 802.6L1736.2 801.7L1738.0 800.9L1739.8 800.1L1741.7 799.3L1743.5 798.5L1745.3 797.7L1747.1 796.8L1749.0 796.0L1750.8 795.2L1752.6 794.4L1754.5 793.6L1756.3 792.8L1758.1 792.0L1759.9 791.1L1761.8 790.3L1763.6 789.5L1765.4 788.7L1767.2 787.9L1769.1 787.0L1770.9 786.2L1772.7 785.4L1774.5 784.6L1776.4 783.8L1778.2 783.0L1780.0 782.1L1781.8 781.3L1783.7 780.5L1785.5 779.7L1787.3 778.9L1789.1 778.1L1791.0 777.2L1792.8 776.4L1794.6 775.6L1796.4 774.8L1798.3 774.0L1800.1 773.2L1801.9 772.4L1803.8 771.6L1805.6 770.7L1807.4 769.9L1809.2 769.1L1811.1 768.3L1812.9 767.5L1814.7 766.7L1816.6 765.9L1818.4 765.1L1820.2 764.3L1822.0 763.5L1823.9 762.7L1825.7 761.9L1827.5 761.0L1829.4 760.2L1831.2 759.4L1833.0 758.6L1834.9 757.8L1836.7 757.0L1838.5 756.3L1840.4 755.5L1842.2 754.7L1844.0 753.9L1845.9 753.1L1847.7 752.3L1849.6 751.5L1851.4 750.7L1853.2 749.9L1855.1 749.1L1856.9 748.3L1858.8 747.6L1860.6 746.8L1862.4 746.0L1864.3 745.2L1866.1 744.4L1868.0 743.7L1869.8 742.9L1871.6 742.1L1873.5 741.4L1875.3 740.6L1877.2 739.8L1879.0 739.0L1880.9 738.3L1882.7 737.5L1884.6 736.8L1886.4 736.0L1888.3 735.2L1890.1 734.5L1892.0 733.7L1893.8 733.0L1895.7 732.2L1897.6 731.5L1899.4 730.7L1901.3 730.0L1903.1 729.3L1905.0 728.5L1906.8 727.8L1908.7 727.1L1910.6 726.3L1912.4 725.6L1914.3 724.9L1916.2 724.1L1918.0 723.4L1919.9 722.7L1921.8 722.0L1923.6 721.3L1925.5 720.6L1927.4 719.8L1929.2 719.1L1931.1 718.4L1933.0 717.7L1934.8 717.0L1936.7 716.3L1938.6 715.6L1940.5 714.9L1942.3 714.2L1944.2 713.5L1946.1 712.8L1948.0 712.1L1949.8 711.5L1951.7 710.8L1953.6 710.1L1955.5 709.4L1957.4 708.7L1959.2 708.1L1961.1 707.4L1963.0 706.7L1964.9 706.0L1966.8 705.4L1968.7 704.7L1970.6 704.0L1972.4 703.4L1974.3 702.7L1976.2 702.1L1978.1 701.4L1980.0 700.8L1981.9 700.1L1983.8 699.5L1985.7 698.8L1987.6 698.2L1989.5 697.5L1991.4 696.9L1993.3 696.2L1995.1 695.6L1997.0 695.0L1998.9 694.3L2000.8 693.7L2002.7 693.1L2004.6 692.4L2006.5 691.8L2008.4 691.2L2010.3 690.6L2012.2 690.0L2014.1 689.3L2016.0 688.7L2017.9 688.1L2019.9 687.5L2021.8 686.9L2023.7 686.3L2025.6 685.7L2027.5 685.1L2029.4 684.5L2031.3 683.9L2033.2 683.3L2035.1 682.7L2037.0 682.1L2038.9 681.5L2040.8 680.9L2042.7 680.3L2044.7 679.7L2046.6 679.1L2048.5 678.5L2050.4 678.0L2052.3 677.4L2054.2 676.8L2056.1 676.2L2058.1 675.7L2060.0 675.1L2061.9 674.5L2063.8 673.9L2065.7 673.4L2067.6 672.8L2069.6 672.2L2071.5 671.7L2073.4 671.1L2075.3 670.6L2077.2 670.0L2079.2 669.5L2081.1 668.9L2083.0 668.4L2084.9 667.8L2086.9 667.3L2088.8 666.7L2090.7 666.2L2092.6 665.6L2094.6 665.1L2096.5 664.5L2098.4 664.0L2100.3 663.5L2102.3 662.9L2104.2 662.4L2106.1 661.9L2108.1 661.4L2110.0 660.8L2111.9 660.3L2113.8 659.8L2115.8 659.3L2117.7 658.7L2119.6 658.2L2121.6 657.7L2123.5 657.2L2125.4 656.7L2127.4 656.2L2129.3 655.7L2131.2 655.2L2133.2 654.6L2135.1 654.1L2137.0 653.6L2139.0 653.1L2140.9 652.6L2142.9 652.2L2144.8 651.7L2146.7 651.2L2148.7 650.7L2150.6 650.2L2152.6 649.7L2154.5 649.2L2156.4 648.8L2158.4 648.3L2160.3 647.8L2162.3 647.3L2164.2 646.9L2166.2 646.4L2168.1 645.9L2170.0 645.5L2172.0 645.0L2173.9 644.5L2175.9 644.1L2177.8 643.6L2179.8 643.2L2181.7 642.7L2183.7 642.3L2185.6 641.9L2187.6 641.4L2189.5 641.0L2191.5 640.5L2193.4 640.1L2195.4 639.7L2197.3 639.3L2199.3 638.8L2201.3 638.4L2203.2 638.0L2205.2 637.6L2207.1 637.2L2209.1 636.8L2211.0 636.4L2213.0 636.0L2215.0 635.6L2216.9 635.2L2218.9 634.8L2220.9 634.5L2222.8 634.1L2224.8 633.8L2226.8 633.5L2228.8 633.2L2230.7 632.9L2232.7 632.6L2234.7 632.3L2236.7 632.1L2238.7 631.9L2240.7 631.7L2242.7 631.5L2244.6 631.3L2246.6 631.2L2248.6 631.1L2250.6 631.0L2252.6 631.0L2254.6 630.9L2256.6 631.0L2258.6 631.0L2260.6 631.1L2262.3 631.1M266.9 102.6L267.1 104.6L267.2 106.6L267.3 108.6L267.5 110.6L267.6 112.6L267.7 114.6L267.9 116.6L268.0 118.6L268.1 120.6L268.3 122.5L268.4 124.5L268.6 126.5L268.7 128.5L268.8 130.5L269.0 132.5L269.1 134.5L269.3 136.5L269.4 138.5L269.6 140.5L269.7 142.5L269.9 144.5L270.0 146.5L270.2 148.5L270.3 150.5L270.5 152.5L270.6 154.5L270.8 156.5L270.9 158.4L271.1 160.4L271.2 162.4L271.4 164.4L271.6 166.4L271.7 168.4L271.9 170.4L272.0 172.4L272.2 174.4L272.4 176.4L272.5 178.4L272.7 180.4L272.9 182.4L273.0 184.4L273.2 186.4L273.4 188.3L273.6 190.3L273.7 192.3L273.9 194.3L274.1 196.3L274.2 198.3L274.4 200.3L274.6 202.3L274.8 204.3L275.0 206.3L275.1 208.3L275.3 210.3L275.5 212.3L275.7 214.2L275.9 216.2L276.1 218.2L276.3 220.2L276.4 222.2L276.6 224.2L276.8 226.2L277.0 228.2L277.2 230.2L277.4 232.2L277.6 234.2L277.8 236.1L278.0 238.1L278.2 240.1L278.4 242.1L278.6 244.1L278.8 246.1L279.0 248.1L279.2 250.1L279.4 252.1L279.6 254.0L279.9 256.0L280.1 258.0L280.3 260.0L280.5 262.0L280.7 264.0L280.9 266.0L281.2 268.0L281.4 270.0L281.6 271.9L281.8 273.9L282.0 275.9L282.3 277.9L282.5 279.9L282.7 281.9L283.0 283.9L283.2 285.9L283.4 287.8L283.7 289.8L283.9 291.8L284.1 293.8L284.4 295.8L284.6 297.8L284.8 299.8L285.1 301.7L285.3 303.7L285.6 305.7L285.8 307.7L286.1 309.7L286.3 311.7L286.6 313.6L286.8 315.6L287.1 317.6L287.3 319.6L287.6 321.6L287.9 323.6L288.1 325.5L288.4 327.5L288.6 329.5L288.9 331.5L289.2 333.5L289.5 335.5L289.7 337.4L290.0 339.4L290.3 341.4L290.5 343.4L290.8 345.4L291.1 347.3L291.4 349.3L291.7 351.3L291.9 353.3L292.2 355.3L292.5 357.2L292.8 359.2L293.1 361.2L293.4 363.2L293.7 365.2L294.0 367.1L294.3 369.1L294.6 371.1L294.9 373.1L295.2 375.0L295.5 377.0L295.8 379.0L296.1 381.0L296.4 382.9L296.7 384.9L297.0 386.9L297.4 388.9L297.7 390.8L298.0 392.8L298.3 394.8L298.6 396.8L299.0 398.7L299.3 400.7L299.6 402.7L299.9 404.7L300.3 406.6L300.6 408.6L300.9 410.6L301.3 412.6L301.6 414.5L301.9 416.5L302.3 418.5L302.6 420.4L303.0 422.4L303.3 424.4L303.7 426.3L304.0 428.3L304.4 430.3L304.7 432.2L305.1 434.2L305.5 436.2L305.8 438.2L306.2 440.1L306.5 442.1L306.9 444.0L307.3 446.0L307.7 448.0L308.0 449.9L308.4 451.9L308.8 453.9L309.2 455.8L309.5 457.8L309.9 459.8L310.3 461.7L310.7 463.7L311.1 465.7L311.5 467.6L311.9 469.6L312.3 471.5L312.7 473.5L313.1 475.5L313.5 477.4L313.9 479.4L314.3 481.3L314.7 483.3L315.1 485.2L315.5 487.2L315.9 489.2L316.3 491.1L316.7 493.1L317.2 495.0L317.6 497.0L318.0 498.9L318.4 500.9L318.9 502.8L319.3 504.8L319.7 506.7L320.2 508.7L320.6 510.6L321.1 512.6L321.5 514.5L322.0 516.5L322.4 518.4L322.9 520.4L323.3 522.3L323.8 524.3L324.3 526.2L324.7 528.2L325.2 530.1L325.7 532.1L326.2 534.0L326.7 535.9L327.2 537.9L327.6 539.8L328.1 541.8L328.6 543.7L329.1 545.6L329.6 547.6L330.2 549.5L330.7 551.4L331.2 553.4L331.7 555.3L332.2 557.2L332.8 559.1L333.3 561.1L333.9 563.0L334.4 564.9L334.9 566.8L335.5 568.8L336.1 570.7L336.6 572.6L337.2 574.5L337.8 576.4L338.3 578.4L338.9 580.3L339.5 582.2L340.1 584.1L340.7 586.0L341.3 587.9L341.9 589.8L342.5 591.7L343.1 593.6L343.8 595.5L344.4 597.4L345.0 599.3L345.7 601.2L346.3 603.1L347.0 605.0L347.6 606.9L348.3 608.8L348.9 610.7L349.6 612.5L350.3 614.4L351.0 616.3L351.7 618.2L352.4 620.1L353.1 621.9L353.8 623.8L354.5 625.7L355.2 627.5L355.9 629.4L356.7 631.3L357.4 633.1L358.2 635.0L358.9 636.8L359.7 638.7L360.4 640.5L361.2 642.4L362.0 644.2L362.8 646.0L363.6 647.9L364.4 649.7L365.2 651.5L366.0 653.4L366.8 655.2L367.7 657.0L368.5 658.8L369.3 660.6L370.2 662.4L371.0 664.3L371.9 666.1L372.8 667.9L373.7 669.7L374.5 671.4L375.4 673.2L376.3 675.0L377.2 676.8L378.2 678.6L379.1 680.4L380.0 682.1L381.0 683.9L381.9 685.7L382.9 687.4L383.8 689.2L384.8 690.9L385.8 692.7L386.7 694.4L387.7 696.1L388.7 697.9L389.7 699.6L390.8 701.3L391.8 703.0L392.8 704.8L393.8 706.5L394.9 708.2L395.9 709.9L397.0 711.6L398.1 713.3L399.1 715.0L400.2 716.6L401.3 718.3L402.4 720.0L403.5 721.7L404.6 723.3L405.7 725.0L406.9 726.6L408.0 728.3L409.1 729.9L410.3 731.6L411.4 733.2L412.6 734.8L413.8 736.4L414.9 738.1L416.1 739.7L417.3 741.3L418.5 742.9L419.7 744.5L420.9 746.1L422.1 747.7L423.4 749.2L424.6 750.8L425.9 752.4L427.1 753.9L428.4 755.5L429.6 757.0L430.9 758.6L432.2 760.1L433.4 761.7L434.7 763.2L436.0 764.7L437.3 766.2L438.6 767.7L440.0 769.2L441.3 770.7L442.6 772.2L444.0 773.7L445.3 775.2L446.7 776.7L448.0 778.1L449.4 779.6L450.8 781.0L452.2 782.5L453.5 783.9L454.9 785.4L456.3 786.8L457.7 788.2L459.2 789.6L460.6 791.0L462.0 792.4L463.5 793.8L464.9 795.2L466.3 796.6L467.8 798.0L469.3 799.3L470.7 800.7L472.2 802.0L473.7 803.4L475.2 804.7L476.7 806.0L478.2 807.3L479.7 808.7L481.2 810.0L482.7 811.3L484.3 812.5L485.8 813.8L487.3 815.1L488.9 816.4L490.5 817.6L492.0 818.9L493.6 820.1L495.2 821.3L496.7 822.6L498.3 823.8L499.9 825.0L501.5 826.2L503.1 827.4L504.7 828.6L506.3 829.8L507.9 831.0L509.6 832.1L511.2 833.3L512.8 834.5L514.5 835.6L516.1 836.7L517.7 837.9L519.4 839.0L521.0 840.1L522.7 841.2L524.4 842.4L526.0 843.5L527.7 844.6L529.4 845.6L531.1 846.7L532.8 847.8L534.4 848.9L536.1 849.9L537.8 851.0L539.5 852.1L541.2 853.1L542.9 854.1L544.7 855.2L546.4 856.2L548.1 857.2L549.8 858.2L551.5 859.3L553.3 860.3L555.0 861.3L556.7 862.3L558.5 863.2L560.2 864.2L562.0 865.2L563.7 866.2L565.5 867.2L567.2 868.1L569.0 869.1L570.7 870.0L572.5 871.0L574.2 871.9L576.0 872.9L577.8 873.8L579.6 874.7L581.3 875.6L583.1 876.6L584.9 877.5L586.7 878.4L588.4 879.3L590.2 880.2L592.0 881.1L593.8 882.0L595.6 882.9L597.4 883.8L599.2 884.6L601.0 885.5L602.8 886.4L604.6 887.3L606.4 888.1L608.2 889.0L610.0 889.8L611.8 890.7L613.6 891.5L615.4 892.4L617.2 893.2L619.1 894.1L620.9 894.9L622.7 895.7L624.5 896.6L626.3 897.4L628.2 898.2L630.0 899.0L631.8 899.8L633.7 900.6L635.5 901.4L637.3 902.2L639.2 903.0L641.0 903.8L642.9 904.5L644.7 905.3L646.6 906.1L648.4 906.8L650.3 907.6L652.1 908.3L654.0 909.1L655.8 909.8L657.7 910.6L659.5 911.3L661.4 912.0L663.3 912.8L665.1 913.5L667.0 914.2L668.9 914.9L670.7 915.6L672.6 916.3L674.5 917.0L676.4 917.7L678.3 918.3L680.1 919.0L682.0 919.7L683.9 920.3L685.8 921.0L687.7 921.6L689.6 922.3L691.5 922.9L693.4 923.6L695.3 924.2L697.2 924.8L699.1 925.4L701.0 926.0L702.9 926.6L704.8 927.2L706.7 927.8L708.6 928.4L710.5 929.0L712.5 929.6L714.4 930.1L716.3 930.7L718.2 931.2L720.1 931.8L722.1 932.3L724.0 932.9L725.9 933.4L727.9 933.9L729.8 934.4L731.7 934.9L733.7 935.4L735.6 935.9L737.5 936.4L739.5 936.9L741.4 937.4L743.4 937.8L745.3 938.3L747.3 938.7L749.2 939.2L751.2 939.6L753.1 940.0L755.1 940.4L757.0 940.8L759.0 941.2L761.0 941.6L762.9 942.0L764.9 942.4L766.9 942.7L768.8 943.1L770.8 943.4L772.8 943.7L774.8 944.0L776.7 944.3L778.7 944.6L780.7 944.9L782.7 945.2L784.7 945.4L786.6 945.7L788.6 945.9L790.6 946.1L792.6 946.3L794.6 946.5L796.6 946.7L798.6 946.9L800.6 947.0L802.6 947.2L804.6 947.3L806.6 947.4L808.6 947.5L810.6 947.6L812.6 947.7L814.6 947.8L816.6 947.8L818.6 947.8L820.6 947.9L822.6 947.9L824.6 947.9L826.6 947.9L828.6 947.8L830.6 947.8L832.6 947.7L834.6 947.7L836.6 947.6L838.5 947.5L840.5 947.4L842.5 947.3L844.5 947.1L846.5 947.0L848.5 946.8L850.5 946.7L852.5 946.5L854.5 946.3L856.5 946.1L858.5 945.9L860.5 945.7L862.5 945.5L864.4 945.2L866.4 945.0L868.4 944.7L870.4 944.5L872.4 944.2L874.4 943.9L876.3 943.6L878.3 943.3L880.3 943.0L882.3 942.7L884.2 942.4L886.2 942.1L888.2 941.8L890.2 941.5L892.1 941.1L894.1 940.8L896.1 940.4L898.0 940.1L900.0 939.7L902.0 939.4L904.0 939.0L905.9 938.6L907.9 938.3L909.8 937.9L911.8 937.5L913.8 937.1L915.7 936.7L917.7 936.4L919.7 936.0L921.6 935.6L923.6 935.2L925.5 934.8L927.5 934.4L929.5 934.0L931.4 933.6L933.4 933.2L935.3 932.8L937.3 932.4L939.3 932.0L941.2 931.6L943.2 931.2L945.1 930.8L947.1 930.4L949.1 930.0L951.0 929.6L953.0 929.2L954.9 928.8L956.9 928.4L958.9 928.0L960.8 927.6L962.8 927.2L964.7 926.8L966.7 926.4L968.7 926.0L970.6 925.6L972.6 925.2L974.5 924.8L976.5 924.4L978.5 924.0L980.4 923.6L982.4 923.2L984.3 922.8L986.3 922.4L988.3 922.0L990.2 921.6L992.2 921.2L994.1 920.8L996.1 920.4L998.1 920.0L1000.0 919.6L1002.0 919.2L1003.9 918.8L1005.9 918.4L1007.9 918.0L1009.8 917.6L1011.8 917.2L1013.7 916.8L1015.7 916.4L1017.7 916.0L1019.6 915.6L1021.6 915.2L1023.5 914.8L1025.5 914.4L1027.4 914.0L1029.4 913.6L1031.4 913.2L1033.3 912.8L1035.3 912.4L1037.2 912.0L1039.2 911.6L1041.2 911.2L1043.1 910.8L1045.1 910.4L1047.0 910.0L1049.0 909.6L1051.0 909.2L1052.9 908.8L1054.9 908.4L1056.8 908.0L1058.8 907.6L1060.8 907.2L1062.7 906.8L1064.7 906.4L1066.6 905.9L1068.6 905.5L1070.5 905.1L1072.5 904.7L1074.5 904.3L1076.4 903.9L1078.4 903.5L1080.3 903.1L1082.3 902.7L1084.3 902.3L1086.2 901.9L1088.2 901.5L1090.1 901.1L1092.1 900.7L1094.0 900.3L1096.0 899.9L1098.0 899.5L1099.9 899.0L1101.9 898.6L1103.8 898.2L1105.8 897.8L1107.8 897.4L1109.7 897.0L1111.7 896.6L1113.6 896.2L1115.6 895.8L1117.5 895.4L1119.5 895.0L1121.5 894.6L1123.4 894.2L1125.4 893.7L1127.3 893.3L1129.3 892.9L1131.2 892.5L1133.2 892.1L1135.2 891.7L1137.1 891.3L1139.1 890.9L1141.0 890.5L1143.0 890.1L1144.9 889.7L1146.9 889.2L1148.9 888.8L1150.8 888.4L1152.8 888.0L1154.7 887.6L1156.7 887.2L1158.7 886.8L1160.6 886.4L1162.6 886.0L1164.5 885.6L1166.5 885.1L1168.4 884.7L1170.4 884.3L1172.4 883.9L1174.3 883.5L1176.3 883.1L1178.2 882.7L1180.2 882.3L1182.1 881.9L1184.1 881.5L1186.1 881.0L1188.0 880.6L1190.0 880.2L1191.9 879.8L1193.9 879.4L1195.8 879.0L1197.8 878.6L1199.8 878.2L1201.7 877.8L1203.7 877.3L1205.6 876.9L1207.6 876.5L1209.5 876.1L1211.5 875.7L1213.5 875.3L1215.4 874.9L1217.4 874.5L1219.3 874.0L1221.3 873.6L1223.2 873.2L1225.2 872.8L1227.2 872.4L1229.1 872.0L1231.1 871.6L1233.0 871.2L1235.0 870.8L1236.9 870.3L1238.9 869.9L1240.9 869.5L1242.8 869.1L1244.8 868.7L1246.7 868.3L1248.7 867.9L1250.6 867.5L1252.6 867.0L1254.6 866.6L1256.5 866.2L1258.5 865.8L1260.4 865.4L1262.4 865.0L1264.3 864.6L1266.3 864.2L1268.3 863.7L1270.2 863.3L1272.2 862.9L1274.1 862.5L1276.1 862.1L1278.0 861.7L1280.0 861.3L1282.0 860.9L1283.9 860.4L1285.9 860.0L1287.8 859.6L1289.8 859.2L1291.7 858.8L1293.7 858.4L1295.7 858.0L1297.6 857.6L1299.6 857.1L1301.5 856.7L1303.5 856.3L1305.4 855.9L1307.4 855.5L1309.4 855.1L1311.3 854.7L1313.3 854.3L1315.2 853.8L1317.2 853.4L1319.1 853.0L1321.1 852.6L1323.1 852.2L1325.0 851.8L1327.0 851.4L1328.9 851.0L1330.9 850.5L1332.8 850.1L1334.8 849.7L1336.8 849.3L1338.7 848.9L1340.7 848.5L1342.6 848.1L1344.6 847.7L1346.5 847.2L1348.5 846.8L1350.5 846.4L1352.4 846.0L1354.4 845.6L1356.3 845.2L1358.3 844.8L1360.2 844.4L1362.2 844.0L1364.2 843.5L1366.1 843.1L1368.1 842.7L1370.0 842.3L1372.0 841.9L1373.9 841.5L1375.9 841.1L1377.9 840.7L1379.8 840.2L1381.8 839.8L1383.7 839.4L1385.7 839.0L1387.6 838.6L1389.6 838.2L1391.6 837.8L1393.5 837.4L1395.5 837.0L1397.4 836.5L1399.4 836.1L1401.3 835.7L1403.3 835.3L1405.3 834.9L1407.2 834.5L1409.2 834.1L1411.1 833.7L1413.1 833.3L1415.0 832.9L1417.0 832.4L1419.0 832.0L1420.9 831.6L1422.9 831.2L1424.8 830.8L1426.8 830.4L1428.7 830.0L1430.7 829.6L1432.7 829.2L1434.6 828.8L1436.6 828.3L1438.5 827.9L1440.5 827.5L1442.4 827.1L1444.4 826.7L1446.4 826.3L1448.3 825.9L1450.3 825.5L1452.2 825.1L1454.2 824.7L1456.2 824.3L1458.1 823.8L1460.1 823.4L1462.0 823.0L1464.0 822.6L1465.9 822.2L1467.9 821.8L1469.9 821.4L1471.8 821.0L1473.8 820.6L1475.7 820.2L1477.7 819.8L1479.6 819.4L1481.6 819.0L1483.6 818.5L1485.5 818.1L1487.5 817.7L1489.4 817.3L1491.4 816.9L1493.4 816.5L1495.3 816.1L1497.3 815.7L1499.2 815.3L1501.2 814.9L1503.1 814.5L1505.1 814.1L1507.1 813.7L1509.0 813.3L1511.0 812.9L1512.9 812.5L1514.9 812.1L1516.9 811.7L1518.8 811.3L1520.8 810.9L1522.7 810.4L1524.7 810.0L1526.7 809.6L1528.6 809.2L1530.6 808.8L1532.5 808.4L1534.5 808.0L1536.4 807.6L1538.4 807.2L1540.4 806.8L1542.3 806.4L1544.3 806.0L1546.2 805.6L1548.2 805.2L1550.2 804.8L1552.1 804.4L1554.1 804.0L1556.0 803.6L1558.0 803.2L1560.0 802.8L1561.9 802.4L1563.9 802.0L1565.8 801.6L1567.8 801.2L1569.8 800.8L1571.7 800.5L1573.7 800.1L1575.6 799.7L1577.6 799.3L1579.6 798.9L1581.5 798.5L1583.5 798.1L1585.4 797.7L1587.4 797.3L1589.4 796.9L1591.3 796.5L1593.3 796.1L1595.3 795.7L1597.2 795.3L1599.2 794.9L1601.1 794.5L1603.1 794.2L1605.1 793.8L1607.0 793.4L1609.0 793.0L1610.9 792.6L1612.9 792.2L1614.9 791.8L1616.8 791.4L1618.8 791.0L1620.8 790.6L1622.7 790.3L1624.7 789.9L1626.6 789.5L1628.6 789.1L1630.6 788.7L1632.5 788.3L1634.5 787.9L1636.5 787.6L1638.4 787.2L1640.4 786.8L1642.3 786.4L1644.3 786.0L1646.3 785.6L1648.2 785.3L1650.2 784.9L1652.2 784.5L1654.1 784.1L1656.1 783.7L1658.0 783.4L1660.0 783.0L1662.0 782.6L1663.9 782.2L1665.9 781.8L1667.9 781.5L1669.8 781.1L1671.8 780.7L1673.8 780.3L1675.7 780.0L1677.7 779.6L1679.7 779.2L1681.6 778.8L1683.6 778.5L1685.5 778.1L1687.5 777.7L1689.5 777.3L1691.4 777.0L1693.4 776.6L1695.4 776.2L1697.3 775.8L1699.3 775.5L1701.3 775.1L1703.2 774.7L1705.2 774.4L1707.2 774.0L1709.1 773.6L1711.1 773.3L1713.1 772.9L1715.0 772.5L1717.0 772.1L1719.0 771.8L1720.9 771.4L1722.9 771.0L1724.9 770.7L1726.8 770.3L1728.8 769.9L1730.8 769.6L1732.7 769.2L1734.7 768.8L1736.6 768.5L1738.6 768.1L1740.6 767.7L1742.5 767.4L1744.5 767.0L1746.5 766.6L1748.4 766.3L1750.4 765.9L1752.4 765.5L1754.3 765.2L1756.3 764.8L1758.3 764.4L1760.2 764.1L1762.2 763.7L1764.2 763.3L1766.1 763.0L1768.1 762.6L1770.1 762.2L1772.0 761.9L1774.0 761.5L1776.0 761.1L1777.9 760.8L1779.9 760.4L1781.9 760.0L1783.8 759.7L1785.8 759.3L1787.8 758.9L1789.7 758.6L1791.7 758.2L1793.7 757.8L1795.6 757.4L1797.6 757.1L1799.6 756.7L1801.5 756.3L1803.5 756.0L1805.5 755.6L1807.4 755.2L1809.4 754.9L1811.4 754.5L1813.3 754.1L1815.3 753.7L1817.2 753.4L1819.2 753.0L1821.2 752.6L1823.1 752.3L1825.1 751.9L1827.1 751.5L1829.0 751.1L1831.0 750.8L1833.0 750.4L1834.9 750.0L1836.9 749.6L1838.9 749.3L1840.8 748.9L1842.8 748.5L1844.8 748.1L1846.7 747.8L1848.7 747.4L1850.6 747.0L1852.6 746.6L1854.6 746.2L1856.5 745.9L1858.5 745.5L1860.5 745.1L1862.4 744.7L1864.4 744.3L1866.4 744.0L1868.3 743.6L1870.3 743.2L1872.2 742.8L1874.2 742.4L1876.2 742.0L1878.1 741.7L1880.1 741.3L1882.1 740.9L1884.0 740.5L1886.0 740.1L1887.9 739.7L1889.9 739.3L1891.9 738.9L1893.8 738.5L1895.8 738.2L1897.7 737.8L1899.7 737.4L1901.7 737.0L1903.6 736.6L1905.6 736.2L1907.6 735.8L1909.5 735.4L1911.5 735.0L1913.4 734.6L1915.4 734.2L1917.4 733.8L1919.3 733.4L1921.3 733.0L1923.2 732.6L1925.2 732.2L1927.1 731.8L1929.1 731.4L1931.1 731.0L1933.0 730.6L1935.0 730.1L1936.9 729.7L1938.9 729.3L1940.9 728.9L1942.8 728.5L1944.8 728.1L1946.7 727.7L1948.7 727.3L1950.6 726.8L1952.6 726.4L1954.5 726.0L1956.5 725.6L1958.5 725.2L1960.4 724.8L1962.4 724.3L1964.3 723.9L1966.3 723.5L1968.2 723.1L1970.2 722.6L1972.1 722.2L1974.1 721.8L1976.0 721.3L1978.0 720.9L1979.9 720.5L1981.9 720.0L1983.9 719.6L1985.8 719.2L1987.8 718.7L1989.7 718.3L1991.7 717.8L1993.6 717.4L1995.6 717.0L1997.5 716.5L1999.5 716.1L2001.4 715.6L2003.4 715.2L2005.3 714.7L2007.3 714.3L2009.2 713.8L2011.1 713.4L2013.1 712.9L2015.0 712.4L2017.0 712.0L2018.9 711.5L2020.9 711.1L2022.8 710.6L2024.8 710.1L2026.7 709.6L2028.7 709.2L2030.6 708.7L2032.5 708.2L2034.5 707.8L2036.4 707.3L2038.4 706.8L2040.3 706.3L2042.3 705.8L2044.2 705.4L2046.1 704.9L2048.1 704.4L2050.0 703.9L2052.0 703.4L2053.9 702.9L2055.8 702.4L2057.8 701.9L2059.7 701.4L2061.6 700.9L2063.6 700.4L2065.5 699.9L2067.4 699.4L2069.4 698.9L2071.3 698.4L2073.2 697.9L2075.2 697.3L2077.1 696.8L2079.0 696.3L2081.0 695.8L2082.9 695.3L2084.8 694.7L2086.8 694.2L2088.7 693.7L2090.6 693.2L2092.5 692.6L2094.5 692.1L2096.4 691.5L2098.3 691.0L2100.2 690.5L2102.2 689.9L2104.1 689.4L2106.0 688.8L2107.9 688.3L2109.9 687.7L2111.8 687.1L2113.7 686.6L2115.6 686.0L2117.5 685.5L2119.5 684.9L2121.4 684.3L2123.3 683.8L2125.2 683.2L2127.1 682.6L2129.0 682.0L2130.9 681.4L2132.9 680.9L2134.8 680.3L2136.7 679.7L2138.6 679.1L2140.5 678.5L2142.4 677.9L2144.3 677.3L2146.2 676.7L2148.1 676.1L2150.0 675.5L2151.9 674.9L2153.8 674.3L2155.7 673.6L2157.7 673.0L2159.6 672.4L2161.5 671.8L2163.4 671.1L2165.2 670.5L2167.1 669.9L2169.0 669.2L2170.9 668.6L2172.8 668.0L2174.7 667.3L2176.6 666.7L2178.5 666.0L2180.4 665.4L2182.3 664.7L2184.2 664.1L2186.1 663.4L2188.0 662.7L2189.8 662.1L2191.7 661.4L2193.6 660.7L2195.5 660.0L2197.4 659.4L2199.2 658.7L2201.1 658.0L2203.0 657.3L2204.9 656.6L2206.8 655.9L2208.6 655.2L2210.5 654.5L2212.4 653.8L2214.2 653.1L2216.1 652.4L2218.0 651.7L2219.8 651.0L2221.7 650.2L2223.6 649.5L2225.4 648.8L2227.3 648.1L2229.2 647.3L2231.0 646.6L2232.9 645.8L2234.7 645.1L2236.6 644.4L2238.4 643.6L2240.3 642.8L2242.1 642.1L2244.0 641.3L2245.8 640.6L2247.7 639.8L2249.5 639.0L2251.4 638.2L2253.2 637.5L2255.1 636.7L2256.9 635.9L2258.7 635.1L2260.6 634.3L2262.4 633.5" fill="none" stroke="#1F3BFF" stroke-width="7.8" stroke-linecap="round" stroke-linejoin="round"/>
</g>
<g fill="#000"><rect x="263.00" y="38.63" width="5.8" height="1327.27"/><rect x="237" y="1336.07" width="2086.40" height="5.8"/><rect x="237" y="1336.07" width="28.90" height="5.8"/><rect x="237" y="1227.95" width="28.90" height="5.8"/><rect x="237" y="1119.83" width="28.90" height="5.8"/><rect x="237" y="1011.71" width="28.90" height="5.8"/><rect x="237" y="903.59" width="28.90" height="5.8"/><rect x="237" y="795.47" width="28.90" height="5.8"/><rect x="237" y="687.35" width="28.90" height="5.8"/><rect x="237" y="579.23" width="28.90" height="5.8"/><rect x="237" y="471.11" width="28.90" height="5.8"/><rect x="237" y="362.99" width="28.90" height="5.8"/><rect x="237" y="254.87" width="28.90" height="5.8"/><rect x="237" y="146.75" width="28.90" height="5.8"/><rect x="237" y="38.63" width="28.90" height="5.8"/><rect x="263.00" y="1338.97" width="5.8" height="26.93"/><rect x="673.92" y="1338.97" width="5.8" height="26.93"/><rect x="1084.84" y="1338.97" width="5.8" height="26.93"/><rect x="1495.76" y="1338.97" width="5.8" height="26.93"/><rect x="1906.68" y="1338.97" width="5.8" height="26.93"/><rect x="2317.60" y="1338.97" width="5.8" height="26.93"/></g>
<g font-family="Liberation Serif, serif" font-size="62" fill="#000" text-anchor="end"><text transform="translate(218.8 1356.6) scale(1 1.045)">−1.2</text><text transform="translate(218.8 1248.4) scale(1 1.045)">−1.0</text><text transform="translate(218.8 1140.3) scale(1 1.045)">−0.8</text><text transform="translate(218.8 1032.2) scale(1 1.045)">−0.6</text><text transform="translate(218.8 924.1) scale(1 1.045)">−0.4</text><text transform="translate(218.8 816.0) scale(1 1.045)">−0.2</text><text transform="translate(218.8 707.9) scale(1 1.045)">0.0</text><text transform="translate(218.8 599.7) scale(1 1.045)">0.2</text><text transform="translate(218.8 491.6) scale(1 1.045)">0.4</text><text transform="translate(218.8 383.5) scale(1 1.045)">0.6</text><text transform="translate(218.8 275.4) scale(1 1.045)">0.8</text><text transform="translate(218.8 167.2) scale(1 1.045)">1.0</text><text transform="translate(218.8 59.1) scale(1 1.045)">1.2</text></g><g font-family="Liberation Serif, serif" font-size="62" fill="#000" text-anchor="middle"><text transform="translate(265.4 1432.8) scale(1 1.045)">0.0</text><text transform="translate(676.3 1432.8) scale(1 1.045)">0.2</text><text transform="translate(1087.2 1432.8) scale(1 1.045)">0.4</text><text transform="translate(1498.2 1432.8) scale(1 1.045)">0.6</text><text transform="translate(1909.1 1432.8) scale(1 1.045)">0.8</text><text transform="translate(2320.0 1432.8) scale(1 1.045)">1.0</text></g><text x="1292.8" y="1550" font-family="Liberation Serif, serif" font-size="75" text-anchor="middle">x/c</text><text transform="translate(75 690) rotate(-90)" font-family="Liberation Serif, serif" font-size="75.5" text-anchor="middle">Cp</text><path d="M1598.9 104H1629.4M1670.4 104H1702.6M1743.5 104H1765.5" stroke="#FF0000" stroke-width="7.8" stroke-linecap="round" fill="none"/><path d="M1599.8 196H1764.1" stroke="#1F3BFF" stroke-width="7.9" stroke-linecap="round" fill="none"/><g font-family="Liberation Serif, serif" font-size="75.5" fill="#000"><text x="1783" y="129">Optimal Airfoil</text><text x="1781" y="220.8">NACA0012</text></g>
</svg>
</body></html>
